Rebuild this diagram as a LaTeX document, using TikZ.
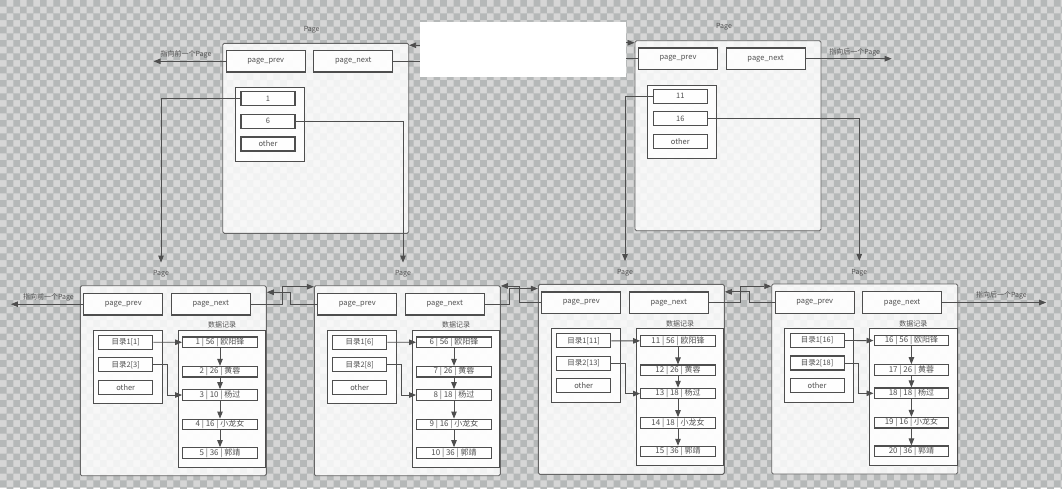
\documentclass[tikz,border=0pt]{standalone}
\usepackage{fontspec}
\setmainfont{Noto Sans CJK SC}
\usetikzlibrary{arrows.meta}

\definecolor{chklight}{RGB}{214,214,214}
\definecolor{chkdark}{RGB}{181,184,184}
\definecolor{linegray}{RGB}{78,78,78}
\definecolor{textgray}{RGB}{80,80,80}

\tikzset{
  box/.style={draw=linegray, fill=white, fill opacity=.82, text opacity=1, inner sep=0pt},
  pagebox/.style={box, draw=black!60, line width=.9pt, rounded corners=1.5pt, minimum width=186pt, minimum height=190pt},
  ptrbox/.style={box, line width=1.2pt, minimum width=79pt, minimum height=21.5pt},
  dirbox/.style={box, line width=1pt, minimum width=69pt, minimum height=73.5pt},
  entry/.style={box, line width=1.1pt, minimum width=54pt, minimum height=14pt},
  databox/.style={box, line width=1pt, minimum width=87.4pt, minimum height=137.3pt},
  rec/.style={box, line width=1.2pt, minimum width=74.6pt, minimum height=10.5pt, font=\fontsize{8}{9}\selectfont},
  tag/.style={text=textgray, inner sep=1pt, font=\fontsize{7}{8}\selectfont},
  link/.style={draw=linegray, line width=.9pt},
  tip/.style={-{Triangle[length=7pt,width=5.5pt]}},
}

% upper pages: name, left, top, first key, second key
\newcommand{\indexpage}[5]{%
  \begin{scope}[shift={(#2,#3)}]
    \node[pagebox] (#1) at (93,95) {};
    \node[tag] (#1Title) at (89,-13.5) {Page};
    \node[ptrbox] (#1Prev) at (43,18) {page\_prev};
    \node[ptrbox] (#1Next) at (130.6,18) {page\_next};
    \node[dirbox] (#1Dir) at (47.3,81.3) {};
    \node[entry] (#1KeyA) at (45.3,55.4) {#4};
    \node[entry] (#1KeyB) at (45.3,78) {#5};
    \node[entry] (#1Other) at (45.3,100.7) {other};
  \end{scope}}

% lower pages: name, left, top, title x, first id, ages
\newcommand{\datapage}[6]{%
  \begin{scope}[shift={(#2,#3)}]
    \node[pagebox] (#1) at (93,95) {};
    \node[tag] (#1Title) at (#4,-11.5) {Page};
    \node[ptrbox] (#1Prev) at (43,18.5) {page\_prev};
    \node[ptrbox] (#1Next) at (130.4,18.5) {page\_next};
    \node[dirbox] (#1Dir) at (47.3,81.3) {};
    \pgfmathtruncatemacro\dirb{#5+2}
    \node[entry] (#1DirA) at (45.4,56.5) {目录1[#5]};
    \node[entry] (#1DirB) at (45.4,79) {目录2[\dirb]};
    \node[entry] (#1Other) at (45.4,101.6) {other};
    \node[databox] (#1Data) at (141.7,113) {};
    \node[tag, above] (#1DataTitle) at (#1Data.north) {数据记录};
    \foreach \nm/\ry [count=\i] in {欧阳锋/56.6, 黄蓉/86, 杨过/109.3, 小龙女/138.7, 郭靖/167.3} {
      \pgfmathtruncatemacro\rid{#5+\i-1}
      \pgfmathtruncatemacro\age{{#6}[\i-1]}
      \node[rec] (#1Rec\i) at (139.7,\ry) {\rid{} | \age{} | \nm};
    }
    \foreach \i [evaluate=\i as \j using int(\i+1)] in {1,...,4}
      \draw[link, tip] (#1Rec\i) -- (#1Rec\j);
    \draw[link, tip] (#1DirA) -- (#1Rec1);
    \draw[link, tip] (#1DirB.east) -- ++(14,0) |- (#1Rec3.west);
  \end{scope}}

\begin{document}
\begin{tikzpicture}[x=1pt, y=-1pt, font=\fontsize{7.5}{9}\selectfont, text=textgray]
    \useasboundingbox (0,0) rectangle (1062,488);
    % Background
    \begin{scope}
        \clip (0,0) rectangle (1062,488);
        \fill[chklight] (0,0) rectangle (1062,488);
        \fill[chkdark] \foreach \i in {0,...,79} {\foreach \j in {0,...,36}
            {(\i*13.34,\j*13.34) rectangle ++(6.67,6.67) (\i*13.34+6.67,\j*13.34+6.67) rectangle ++(6.67,6.67)}};
    \end{scope}

    % Nodes
    \indexpage{TL}{222.7}{43.3}{1}{6}
    \indexpage{TR}{635}{40.7}{11}{16}
    \datapage{PA}{80.3}{285.7}{80.7}{1}{56,26,10,16,36}
    \datapage{PB}{314.3}{285.7}{88.7}{6}{56,26,18,16,36}
    \datapage{PC}{538.3}{284.3}{86.7}{11}{56,26,18,18,36}
    \datapage{PD}{771.7}{284}{87.6}{16}{56,26,18,16,36}

    \coordinate (TLBack) at ([xshift=-72pt]TLPrev.west);
    \coordinate (TRFwd) at ([xshift=86pt]TRNext.east);
    \coordinate (PABack) at ([xshift=-72.3pt]PAPrev.west);
    \coordinate (PDFwd) at ([xshift=104pt]PDNext.east);

    % Paths
    \draw[link, tip] (TLPrev.west) -- (TLBack) node[tag, above=1.5pt, pos=.55] (TLBackLabel) {指向前一个Page};
    \draw[link, tip] (TRNext.east) -- (TRFwd) node[tag, above=1.5pt, pos=.57] (TRFwdLabel) {指向后一个Page};
    \draw[link, tip] (TLNext.east) -- ++(127,0) |- ([yshift=-2.5pt]TR.north west);
    \draw[link, tip] (TRPrev.west) -- ++(-107,0) |- ([yshift=-2.4pt]TL.north east);

    \draw[link, tip, shorten >=7pt] (TLKeyA.west) -| (PATitle.north);
    \draw[link, tip, shorten >=7pt] (TLKeyB.east) -| (PBTitle.north);
    \draw[link, tip, shorten >=7pt] (TRKeyA.west) -| (PCTitle.north);
    \draw[link, tip, shorten >=7pt] (TRKeyB.east) -| (PDTitle.north);

    \draw[link, tip] (PAPrev.west) -- (PABack) node[tag, above=1.5pt, pos=.48] (PABackLabel) {指向前一个Page};
    \draw[link, tip] (PDNext.east) -- (PDFwd) node[tag, above=1.5pt, pos=.57] (PDFwdLabel) {指向后一个Page};
    \draw[link, tip] (PANext.east) -- ++(31.6,0) |- ([yshift=-1.5pt]PB.north west);
    \draw[link, tip] (PBPrev.west) -- ++(-26.7,0) |- ([yshift=-7pt]PA.north east);
    \draw[link, tip] (PBNext.east) -- ++(25,0) |- ([yshift=-4.7pt]PC.north west);
    \draw[link, tip] (PCPrev.west) -- ++(-21.5,0) |- ([yshift=-0.7pt]PB.north east);
    \draw[link, tip] (PCNext.east) -- ++(31.5,0) |- ([yshift=-2.7pt]PD.north west);
    \draw[link, tip] (PDPrev.west) -- ++(-25,0) |- ([yshift=-8pt]PC.north east);

    % blank patch over the middle
    \fill[white] (420,22) rectangle (625.7,77);
\end{tikzpicture}
\end{document}
